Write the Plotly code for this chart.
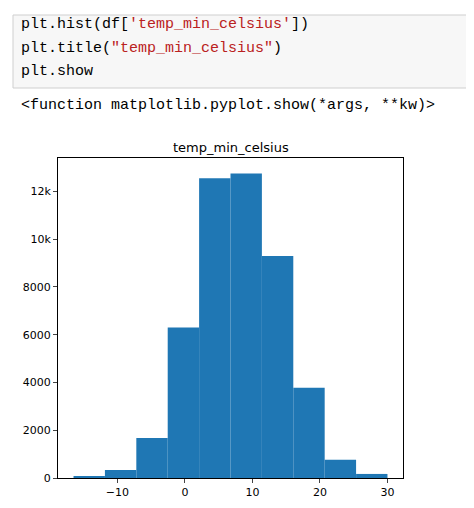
import plotly.graph_objects as go

bin_edges = [-16.5, -11.85, -7.2, -2.55, 2.1, 6.75, 11.4, 16.05, 20.7, 25.35, 30.0]
counts = [80, 340, 1680, 6300, 12550, 12750, 9300, 3780, 760, 170]
x_ticks = [-10, 0, 10, 20, 30]
y_ticks = [0, 2000, 4000, 6000, 8000, 10000, 12000]
title = "temp_min_celsius"

centers = [(a + b) / 2 for a, b in zip(bin_edges[:-1], bin_edges[1:])]
widths = [b - a for a, b in zip(bin_edges[:-1], bin_edges[1:])]

W, H = 474, 508
L, R, T, B = 50, 395, 150, 470
def px(x): return (x - L) / (R - L)
def py(y): return (B - y) / (B - T)

fig = go.Figure(go.Bar(x=centers, y=counts, width=widths, marker=dict(color="#1f77b4", line_width=0)))

red = "#BA2121"
mono = "Liberation Mono"
lines = [
    f"plt.hist(df[<span style='color:{red}'>'temp_min_celsius'</span>])",
    f"plt.title(<span style='color:{red}'>\"temp_min_celsius\"</span>)",
    "plt.show",
]
ann = []
for i, t in enumerate(lines):
    ann.append(dict(text=t, x=px(11), y=py(16 + i * 24), xref="paper", yref="paper",
                    xanchor="left", yanchor="middle", showarrow=False,
                    font=dict(family=mono, size=15, color="#000")))
ann.append(dict(text="&lt;function matplotlib.pyplot.show(*args, **kw)&gt;", x=px(11), y=py(98),
                xref="paper", yref="paper", xanchor="left", yanchor="middle", showarrow=False,
                font=dict(family=mono, size=15, color="#000")))
ann.append(dict(text=title, x=0.5, y=py(139), xref="paper", yref="paper", xanchor="center",
                yanchor="middle", showarrow=False, font=dict(family="DejaVu Sans", size=13, color="#000")))

shapes = [dict(type="rect", xref="paper", yref="paper", x0=px(5), x1=px(480), y0=py(7), y1=py(80),
               fillcolor="#f7f7f7", line=dict(color="#cfcfcf", width=1), layer="below")]

fig.update_layout(
    width=W, height=H, margin=dict(l=L, r=W - R, t=T, b=H - B),
    paper_bgcolor="white", plot_bgcolor="white", showlegend=False,
    annotations=ann, shapes=shapes,
    font=dict(family="DejaVu Sans", size=11, color="#000"),
    xaxis=dict(range=[-18.8, 32.3], tickvals=x_ticks, ticktext=["\u221210", "0", "10", "20", "30"],
               showgrid=False, zeroline=False, showline=True, linecolor="#000", mirror=True,
               ticks="outside", ticklen=4),
    yaxis=dict(range=[0, 13400], tickvals=y_ticks, showgrid=False, zeroline=False, showline=True,
               linecolor="#000", mirror=True, ticks="outside", ticklen=4),
)
fig.write_html("out.html")
